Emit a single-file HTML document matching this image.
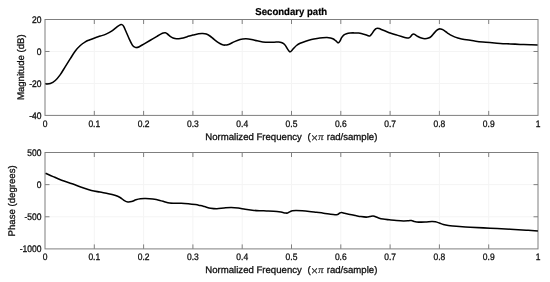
<!DOCTYPE html><html><head><meta charset="utf-8"><title>Secondary path</title>
<style>html,body{margin:0;padding:0;background:#fff}svg{display:block}text{font-family:'Liberation Sans', Arial, Helvetica, sans-serif;fill:#111;stroke:#111;stroke-width:0.3px;text-rendering:geometricPrecision}</style></head><body>
<svg width="550" height="282" viewBox="0 0 550 282">
<rect width="550" height="282" fill="#fff"/>
<line x1="94.30" y1="19.50" x2="94.30" y2="115.40" stroke="#f4f4f4" stroke-width="1"/>
<line x1="143.60" y1="19.50" x2="143.60" y2="115.40" stroke="#f4f4f4" stroke-width="1"/>
<line x1="192.90" y1="19.50" x2="192.90" y2="115.40" stroke="#f4f4f4" stroke-width="1"/>
<line x1="242.20" y1="19.50" x2="242.20" y2="115.40" stroke="#f4f4f4" stroke-width="1"/>
<line x1="291.50" y1="19.50" x2="291.50" y2="115.40" stroke="#f4f4f4" stroke-width="1"/>
<line x1="340.80" y1="19.50" x2="340.80" y2="115.40" stroke="#f4f4f4" stroke-width="1"/>
<line x1="390.10" y1="19.50" x2="390.10" y2="115.40" stroke="#f4f4f4" stroke-width="1"/>
<line x1="439.40" y1="19.50" x2="439.40" y2="115.40" stroke="#f4f4f4" stroke-width="1"/>
<line x1="488.70" y1="19.50" x2="488.70" y2="115.40" stroke="#f4f4f4" stroke-width="1"/>
<line x1="45.00" y1="51.47" x2="538.00" y2="51.47" stroke="#f4f4f4" stroke-width="1"/>
<line x1="45.00" y1="83.43" x2="538.00" y2="83.43" stroke="#f4f4f4" stroke-width="1"/>
<rect x="45.00" y="19.50" width="493.00" height="95.90" fill="none" stroke="#7f7f7f" stroke-width="1"/>
<line x1="94.30" y1="115.40" x2="94.30" y2="110.90" stroke="#808080" stroke-width="1"/>
<line x1="94.30" y1="19.50" x2="94.30" y2="24.00" stroke="#808080" stroke-width="1"/>
<line x1="143.60" y1="115.40" x2="143.60" y2="110.90" stroke="#808080" stroke-width="1"/>
<line x1="143.60" y1="19.50" x2="143.60" y2="24.00" stroke="#808080" stroke-width="1"/>
<line x1="192.90" y1="115.40" x2="192.90" y2="110.90" stroke="#808080" stroke-width="1"/>
<line x1="192.90" y1="19.50" x2="192.90" y2="24.00" stroke="#808080" stroke-width="1"/>
<line x1="242.20" y1="115.40" x2="242.20" y2="110.90" stroke="#808080" stroke-width="1"/>
<line x1="242.20" y1="19.50" x2="242.20" y2="24.00" stroke="#808080" stroke-width="1"/>
<line x1="291.50" y1="115.40" x2="291.50" y2="110.90" stroke="#808080" stroke-width="1"/>
<line x1="291.50" y1="19.50" x2="291.50" y2="24.00" stroke="#808080" stroke-width="1"/>
<line x1="340.80" y1="115.40" x2="340.80" y2="110.90" stroke="#808080" stroke-width="1"/>
<line x1="340.80" y1="19.50" x2="340.80" y2="24.00" stroke="#808080" stroke-width="1"/>
<line x1="390.10" y1="115.40" x2="390.10" y2="110.90" stroke="#808080" stroke-width="1"/>
<line x1="390.10" y1="19.50" x2="390.10" y2="24.00" stroke="#808080" stroke-width="1"/>
<line x1="439.40" y1="115.40" x2="439.40" y2="110.90" stroke="#808080" stroke-width="1"/>
<line x1="439.40" y1="19.50" x2="439.40" y2="24.00" stroke="#808080" stroke-width="1"/>
<line x1="488.70" y1="115.40" x2="488.70" y2="110.90" stroke="#808080" stroke-width="1"/>
<line x1="488.70" y1="19.50" x2="488.70" y2="24.00" stroke="#808080" stroke-width="1"/>
<line x1="45.00" y1="51.47" x2="49.50" y2="51.47" stroke="#808080" stroke-width="1"/>
<line x1="538.00" y1="51.47" x2="533.50" y2="51.47" stroke="#808080" stroke-width="1"/>
<line x1="45.00" y1="83.43" x2="49.50" y2="83.43" stroke="#808080" stroke-width="1"/>
<line x1="538.00" y1="83.43" x2="533.50" y2="83.43" stroke="#808080" stroke-width="1"/>
<text transform="translate(45.00 126.95) scale(0.93 1.03)" font-size="9.15" text-anchor="middle">0</text>
<text transform="translate(94.30 126.95) scale(0.93 1.03)" font-size="9.15" text-anchor="middle">0.1</text>
<text transform="translate(143.60 126.95) scale(0.93 1.03)" font-size="9.15" text-anchor="middle">0.2</text>
<text transform="translate(192.90 126.95) scale(0.93 1.03)" font-size="9.15" text-anchor="middle">0.3</text>
<text transform="translate(242.20 126.95) scale(0.93 1.03)" font-size="9.15" text-anchor="middle">0.4</text>
<text transform="translate(291.50 126.95) scale(0.93 1.03)" font-size="9.15" text-anchor="middle">0.5</text>
<text transform="translate(340.80 126.95) scale(0.93 1.03)" font-size="9.15" text-anchor="middle">0.6</text>
<text transform="translate(390.10 126.95) scale(0.93 1.03)" font-size="9.15" text-anchor="middle">0.7</text>
<text transform="translate(439.40 126.95) scale(0.93 1.03)" font-size="9.15" text-anchor="middle">0.8</text>
<text transform="translate(488.70 126.95) scale(0.93 1.03)" font-size="9.15" text-anchor="middle">0.9</text>
<text transform="translate(538.00 126.95) scale(0.93 1.03)" font-size="9.15" text-anchor="middle">1</text>
<text transform="translate(41.50 23.00) scale(0.93 1.05)" font-size="9.15" text-anchor="end">20</text>
<text transform="translate(41.50 54.97) scale(0.93 1.05)" font-size="9.15" text-anchor="end">0</text>
<text transform="translate(41.50 86.93) scale(0.93 1.05)" font-size="9.15" text-anchor="end">-20</text>
<text transform="translate(41.50 118.90) scale(0.93 1.05)" font-size="9.15" text-anchor="end">-40</text>
<text transform="translate(205.30 139.70) scale(1 1)" font-size="9.6" text-anchor="start" >Normalized Frequency</text>
<text transform="translate(307.60 139.70) scale(1 1)" font-size="9.6" text-anchor="start" >(</text>
<text transform="translate(314.45 141.70) scale(1 1)" font-size="12.5" text-anchor="middle" style="font-family:'Liberation Serif',serif;fill:#222;stroke:#222;stroke-width:0.25px">×</text>
<text transform="translate(320.85 139.80) scale(1 1)" font-size="10.6" text-anchor="middle" font-style="italic" style="font-family:'Liberation Serif',serif;fill:#222;stroke:#222;stroke-width:0.2px">π</text>
<text transform="translate(326.70 139.70) scale(1 1)" font-size="9.6" text-anchor="start" >rad/sample)</text>
<text transform="translate(24.20 67.20) rotate(-90)" font-size="9.65" text-anchor="middle">Magnitude (dB)</text>
<path transform="translate(0.3 0)" d="M45.20 83.90C46.00 83.85 48.37 84.17 50.00 83.60C51.63 83.03 53.33 82.00 55.00 80.50C56.67 79.00 58.33 76.92 60.00 74.60C61.67 72.28 63.33 69.25 65.00 66.60C66.67 63.95 68.33 61.30 70.00 58.70C71.67 56.10 73.33 53.20 75.00 51.00C76.67 48.80 78.33 47.02 80.00 45.50C81.67 43.98 83.50 42.82 85.00 41.90C86.50 40.98 87.33 40.70 89.00 40.00C90.67 39.30 93.17 38.35 95.00 37.70C96.83 37.05 98.22 36.70 100.00 36.10C101.78 35.50 103.82 34.93 105.70 34.10C107.58 33.27 109.42 32.35 111.30 31.10C113.18 29.85 115.58 27.63 117.00 26.60C118.42 25.57 119.05 25.23 119.80 24.90C120.55 24.57 120.90 24.37 121.50 24.60C122.10 24.83 122.62 24.95 123.40 26.30C124.18 27.65 125.27 30.57 126.20 32.70C127.13 34.83 128.05 37.08 129.00 39.10C129.95 41.12 131.07 43.50 131.90 44.80C132.73 46.10 133.30 46.43 134.00 46.90C134.70 47.37 135.27 47.63 136.10 47.60C136.93 47.57 137.70 47.33 139.00 46.70C140.30 46.07 142.13 44.83 143.90 43.80C145.67 42.77 147.47 41.75 149.60 40.50C151.73 39.25 154.82 37.40 156.70 36.30C158.58 35.20 159.85 34.45 160.90 33.90C161.95 33.35 162.32 33.18 163.00 33.00C163.68 32.82 164.30 32.63 165.00 32.80C165.70 32.97 166.38 33.40 167.20 34.00C168.02 34.60 168.97 35.72 169.90 36.40C170.83 37.08 171.73 37.70 172.80 38.10C173.87 38.50 174.88 38.78 176.30 38.80C177.72 38.82 179.53 38.55 181.30 38.20C183.07 37.85 185.02 37.22 186.90 36.70C188.78 36.18 190.70 35.58 192.60 35.10C194.50 34.62 196.65 34.05 198.30 33.80C199.95 33.55 201.22 33.55 202.50 33.60C203.78 33.65 204.82 33.70 206.00 34.10C207.18 34.50 208.30 35.12 209.60 36.00C210.90 36.88 212.38 38.30 213.80 39.40C215.22 40.50 216.80 41.75 218.10 42.60C219.40 43.45 220.50 44.08 221.60 44.50C222.70 44.92 223.58 45.12 224.70 45.10C225.82 45.08 226.72 44.98 228.30 44.40C229.88 43.82 232.28 42.42 234.20 41.60C236.12 40.78 237.92 39.97 239.80 39.50C241.68 39.03 243.60 38.82 245.50 38.80C247.40 38.78 249.32 39.07 251.20 39.40C253.08 39.73 254.92 40.38 256.80 40.80C258.68 41.22 260.60 41.65 262.50 41.90C264.40 42.15 266.32 42.25 268.20 42.30C270.08 42.35 272.08 42.25 273.80 42.20C275.52 42.15 277.30 41.97 278.50 42.00C279.70 42.03 280.20 42.13 281.00 42.40C281.80 42.67 282.60 43.07 283.30 43.60C284.00 44.13 284.58 44.75 285.20 45.60C285.82 46.45 286.42 47.78 287.00 48.70C287.58 49.62 288.23 50.58 288.70 51.10C289.17 51.62 289.37 51.87 289.80 51.80C290.23 51.73 290.70 51.28 291.30 50.70C291.90 50.12 292.58 49.17 293.40 48.30C294.22 47.43 295.13 46.33 296.20 45.50C297.27 44.67 298.27 44.02 299.80 43.30C301.33 42.58 303.52 41.83 305.40 41.20C307.28 40.57 309.20 39.97 311.10 39.50C313.00 39.03 314.92 38.70 316.80 38.40C318.68 38.10 320.75 37.85 322.40 37.70C324.05 37.55 325.40 37.45 326.70 37.50C328.00 37.55 329.13 37.75 330.20 38.00C331.27 38.25 332.25 38.55 333.10 39.00C333.95 39.45 334.63 40.15 335.30 40.70C335.97 41.25 336.62 41.95 337.10 42.30C337.58 42.65 337.78 42.98 338.20 42.80C338.62 42.62 339.08 42.05 339.60 41.20C340.12 40.35 340.67 38.72 341.30 37.70C341.93 36.68 342.58 35.77 343.40 35.10C344.22 34.43 345.13 34.05 346.20 33.70C347.27 33.35 348.50 33.13 349.80 33.00C351.10 32.87 352.58 32.88 354.00 32.90C355.42 32.92 356.88 32.92 358.30 33.10C359.72 33.28 361.20 33.68 362.50 34.00C363.80 34.32 365.15 34.70 366.10 35.00C367.05 35.30 367.60 35.65 368.20 35.80C368.80 35.95 369.20 36.15 369.70 35.90C370.20 35.65 370.52 35.18 371.20 34.30C371.88 33.42 373.05 31.55 373.80 30.60C374.55 29.65 375.15 29.00 375.70 28.60C376.25 28.20 376.58 28.20 377.10 28.20C377.62 28.20 377.93 28.30 378.80 28.60C379.67 28.90 381.00 29.48 382.30 30.00C383.60 30.52 385.33 31.20 386.60 31.70C387.87 32.20 388.40 32.48 389.90 33.00C391.40 33.52 393.70 34.22 395.60 34.80C397.50 35.38 399.65 36.02 401.30 36.50C402.95 36.98 404.33 37.45 405.50 37.70C406.67 37.95 407.55 38.12 408.30 38.00C409.05 37.88 409.40 37.57 410.00 37.00C410.60 36.43 411.35 35.10 411.90 34.60C412.45 34.10 412.83 34.00 413.30 34.00C413.77 34.00 413.98 34.18 414.70 34.60C415.42 35.02 416.53 35.92 417.60 36.50C418.67 37.08 419.93 37.73 421.10 38.10C422.27 38.47 423.42 38.70 424.60 38.70C425.78 38.70 427.13 38.50 428.20 38.10C429.27 37.70 430.07 37.13 431.00 36.30C431.93 35.47 432.85 34.12 433.80 33.10C434.75 32.08 435.87 30.88 436.70 30.20C437.53 29.52 438.22 29.22 438.80 29.00C439.38 28.78 439.60 28.80 440.20 28.90C440.80 29.00 441.45 29.08 442.40 29.60C443.35 30.12 445.05 31.38 445.90 32.00C446.75 32.62 446.82 32.82 447.50 33.30C448.18 33.78 448.88 34.30 450.00 34.90C451.12 35.50 452.95 36.38 454.20 36.90C455.45 37.42 456.32 37.67 457.50 38.00C458.68 38.33 459.48 38.55 461.30 38.90C463.12 39.25 466.03 39.72 468.40 40.10C470.77 40.48 473.13 40.88 475.50 41.20C477.87 41.52 480.25 41.77 482.60 42.00C484.95 42.23 486.70 42.37 489.60 42.60C492.50 42.83 496.60 43.18 500.00 43.40C503.40 43.62 506.67 43.73 510.00 43.90C513.33 44.07 516.67 44.25 520.00 44.40C523.33 44.55 527.12 44.68 530.00 44.80C532.88 44.92 536.08 45.05 537.30 45.10" fill="none" stroke="#000" stroke-width="1.55" stroke-linejoin="round" stroke-linecap="butt"/>
<line x1="94.30" y1="152.50" x2="94.30" y2="248.90" stroke="#f4f4f4" stroke-width="1"/>
<line x1="143.60" y1="152.50" x2="143.60" y2="248.90" stroke="#f4f4f4" stroke-width="1"/>
<line x1="192.90" y1="152.50" x2="192.90" y2="248.90" stroke="#f4f4f4" stroke-width="1"/>
<line x1="242.20" y1="152.50" x2="242.20" y2="248.90" stroke="#f4f4f4" stroke-width="1"/>
<line x1="291.50" y1="152.50" x2="291.50" y2="248.90" stroke="#f4f4f4" stroke-width="1"/>
<line x1="340.80" y1="152.50" x2="340.80" y2="248.90" stroke="#f4f4f4" stroke-width="1"/>
<line x1="390.10" y1="152.50" x2="390.10" y2="248.90" stroke="#f4f4f4" stroke-width="1"/>
<line x1="439.40" y1="152.50" x2="439.40" y2="248.90" stroke="#f4f4f4" stroke-width="1"/>
<line x1="488.70" y1="152.50" x2="488.70" y2="248.90" stroke="#f4f4f4" stroke-width="1"/>
<line x1="45.00" y1="184.63" x2="538.00" y2="184.63" stroke="#f4f4f4" stroke-width="1"/>
<line x1="45.00" y1="216.77" x2="538.00" y2="216.77" stroke="#f4f4f4" stroke-width="1"/>
<rect x="45.00" y="152.50" width="493.00" height="96.40" fill="none" stroke="#7f7f7f" stroke-width="1"/>
<line x1="94.30" y1="248.90" x2="94.30" y2="244.40" stroke="#808080" stroke-width="1"/>
<line x1="94.30" y1="152.50" x2="94.30" y2="157.00" stroke="#808080" stroke-width="1"/>
<line x1="143.60" y1="248.90" x2="143.60" y2="244.40" stroke="#808080" stroke-width="1"/>
<line x1="143.60" y1="152.50" x2="143.60" y2="157.00" stroke="#808080" stroke-width="1"/>
<line x1="192.90" y1="248.90" x2="192.90" y2="244.40" stroke="#808080" stroke-width="1"/>
<line x1="192.90" y1="152.50" x2="192.90" y2="157.00" stroke="#808080" stroke-width="1"/>
<line x1="242.20" y1="248.90" x2="242.20" y2="244.40" stroke="#808080" stroke-width="1"/>
<line x1="242.20" y1="152.50" x2="242.20" y2="157.00" stroke="#808080" stroke-width="1"/>
<line x1="291.50" y1="248.90" x2="291.50" y2="244.40" stroke="#808080" stroke-width="1"/>
<line x1="291.50" y1="152.50" x2="291.50" y2="157.00" stroke="#808080" stroke-width="1"/>
<line x1="340.80" y1="248.90" x2="340.80" y2="244.40" stroke="#808080" stroke-width="1"/>
<line x1="340.80" y1="152.50" x2="340.80" y2="157.00" stroke="#808080" stroke-width="1"/>
<line x1="390.10" y1="248.90" x2="390.10" y2="244.40" stroke="#808080" stroke-width="1"/>
<line x1="390.10" y1="152.50" x2="390.10" y2="157.00" stroke="#808080" stroke-width="1"/>
<line x1="439.40" y1="248.90" x2="439.40" y2="244.40" stroke="#808080" stroke-width="1"/>
<line x1="439.40" y1="152.50" x2="439.40" y2="157.00" stroke="#808080" stroke-width="1"/>
<line x1="488.70" y1="248.90" x2="488.70" y2="244.40" stroke="#808080" stroke-width="1"/>
<line x1="488.70" y1="152.50" x2="488.70" y2="157.00" stroke="#808080" stroke-width="1"/>
<line x1="45.00" y1="184.63" x2="49.50" y2="184.63" stroke="#808080" stroke-width="1"/>
<line x1="538.00" y1="184.63" x2="533.50" y2="184.63" stroke="#808080" stroke-width="1"/>
<line x1="45.00" y1="216.77" x2="49.50" y2="216.77" stroke="#808080" stroke-width="1"/>
<line x1="538.00" y1="216.77" x2="533.50" y2="216.77" stroke="#808080" stroke-width="1"/>
<text transform="translate(45.00 260.45) scale(0.93 1.03)" font-size="9.15" text-anchor="middle">0</text>
<text transform="translate(94.30 260.45) scale(0.93 1.03)" font-size="9.15" text-anchor="middle">0.1</text>
<text transform="translate(143.60 260.45) scale(0.93 1.03)" font-size="9.15" text-anchor="middle">0.2</text>
<text transform="translate(192.90 260.45) scale(0.93 1.03)" font-size="9.15" text-anchor="middle">0.3</text>
<text transform="translate(242.20 260.45) scale(0.93 1.03)" font-size="9.15" text-anchor="middle">0.4</text>
<text transform="translate(291.50 260.45) scale(0.93 1.03)" font-size="9.15" text-anchor="middle">0.5</text>
<text transform="translate(340.80 260.45) scale(0.93 1.03)" font-size="9.15" text-anchor="middle">0.6</text>
<text transform="translate(390.10 260.45) scale(0.93 1.03)" font-size="9.15" text-anchor="middle">0.7</text>
<text transform="translate(439.40 260.45) scale(0.93 1.03)" font-size="9.15" text-anchor="middle">0.8</text>
<text transform="translate(488.70 260.45) scale(0.93 1.03)" font-size="9.15" text-anchor="middle">0.9</text>
<text transform="translate(538.00 260.45) scale(0.93 1.03)" font-size="9.15" text-anchor="middle">1</text>
<text transform="translate(41.50 156.00) scale(0.93 1.05)" font-size="9.15" text-anchor="end">500</text>
<text transform="translate(41.50 188.13) scale(0.93 1.05)" font-size="9.15" text-anchor="end">0</text>
<text transform="translate(41.50 220.27) scale(0.93 1.05)" font-size="9.15" text-anchor="end">-500</text>
<text transform="translate(41.50 252.40) scale(0.93 1.05)" font-size="9.15" text-anchor="end">-1000</text>
<text transform="translate(205.30 273.20) scale(1 1)" font-size="9.6" text-anchor="start" >Normalized Frequency</text>
<text transform="translate(307.60 273.20) scale(1 1)" font-size="9.6" text-anchor="start" >(</text>
<text transform="translate(314.45 275.20) scale(1 1)" font-size="12.5" text-anchor="middle" style="font-family:'Liberation Serif',serif;fill:#222;stroke:#222;stroke-width:0.25px">×</text>
<text transform="translate(320.85 273.30) scale(1 1)" font-size="10.6" text-anchor="middle" font-style="italic" style="font-family:'Liberation Serif',serif;fill:#222;stroke:#222;stroke-width:0.2px">π</text>
<text transform="translate(326.70 273.20) scale(1 1)" font-size="9.6" text-anchor="start" >rad/sample)</text>
<text transform="translate(14.80 200.85) rotate(-90)" font-size="9.65" text-anchor="middle">Phase (degrees)</text>
<path transform="translate(0.3 0)" d="M45.30 173.20C46.55 173.77 50.13 175.43 52.80 176.60C55.47 177.77 58.12 179.00 61.30 180.20C64.48 181.40 68.35 182.55 71.90 183.80C75.45 185.05 79.40 186.60 82.60 187.70C85.80 188.80 88.27 189.67 91.10 190.40C93.93 191.13 96.77 191.55 99.60 192.10C102.43 192.65 105.62 193.17 108.10 193.70C110.58 194.23 112.55 194.67 114.50 195.30C116.45 195.93 118.20 196.62 119.80 197.50C121.40 198.38 122.80 199.85 124.10 200.60C125.40 201.35 126.40 201.83 127.60 202.00C128.80 202.17 129.95 201.97 131.30 201.60C132.65 201.23 134.23 200.27 135.70 199.80C137.17 199.33 138.48 199.00 140.10 198.80C141.72 198.60 143.33 198.55 145.40 198.60C147.47 198.65 150.13 198.80 152.50 199.10C154.87 199.40 157.53 199.92 159.60 200.40C161.67 200.88 163.27 201.57 164.90 202.00C166.53 202.43 167.92 202.80 169.40 203.00C170.88 203.20 171.88 203.17 173.80 203.20C175.72 203.23 178.53 203.12 180.90 203.20C183.27 203.28 185.65 203.47 188.00 203.70C190.35 203.93 193.00 204.28 195.00 204.60C197.00 204.92 198.47 205.27 200.00 205.60C201.53 205.93 202.47 206.17 204.20 206.60C205.93 207.03 208.33 207.85 210.40 208.20C212.47 208.55 214.38 208.73 216.60 208.70C218.82 208.67 221.33 208.20 223.70 208.00C226.07 207.80 228.45 207.50 230.80 207.50C233.15 207.50 235.45 207.70 237.80 208.00C240.15 208.30 242.53 208.93 244.90 209.30C247.27 209.67 249.63 209.97 252.00 210.20C254.37 210.43 256.73 210.58 259.10 210.70C261.47 210.82 263.83 210.82 266.20 210.90C268.57 210.98 270.90 211.00 273.30 211.20C275.70 211.40 278.63 211.80 280.60 212.10C282.57 212.40 283.97 212.85 285.10 213.00C286.23 213.15 286.62 213.23 287.40 213.00C288.18 212.77 289.02 211.98 289.80 211.60C290.58 211.22 291.12 210.90 292.10 210.70C293.08 210.50 294.07 210.40 295.70 210.40C297.33 210.40 299.68 210.53 301.90 210.70C304.12 210.87 306.63 211.13 309.00 211.40C311.37 211.67 313.73 212.00 316.10 212.30C318.47 212.60 320.85 212.87 323.20 213.20C325.55 213.53 328.28 214.03 330.20 214.30C332.12 214.57 333.52 214.77 334.70 214.80C335.88 214.83 336.50 214.80 337.30 214.50C338.10 214.20 338.85 213.33 339.50 213.00C340.15 212.67 340.38 212.47 341.20 212.50C342.02 212.53 342.98 212.87 344.40 213.20C345.82 213.53 347.88 214.10 349.70 214.50C351.52 214.90 353.48 215.25 355.30 215.60C357.12 215.95 358.83 216.35 360.60 216.60C362.37 216.85 364.42 217.10 365.90 217.10C367.38 217.10 368.37 216.80 369.50 216.60C370.63 216.40 371.82 215.90 372.70 215.90C373.58 215.90 373.87 216.25 374.80 216.60C375.73 216.95 376.97 217.58 378.30 218.00C379.63 218.42 381.02 218.80 382.80 219.10C384.58 219.40 386.78 219.57 389.00 219.80C391.22 220.03 393.73 220.32 396.10 220.50C398.47 220.68 401.13 220.87 403.20 220.90C405.27 220.93 407.18 220.77 408.50 220.70C409.82 220.63 410.22 220.38 411.10 220.50C411.98 220.62 412.92 221.17 413.80 221.40C414.68 221.63 415.22 221.78 416.40 221.90C417.58 222.02 419.27 222.10 420.90 222.10C422.53 222.10 424.43 221.98 426.20 221.90C427.97 221.82 430.02 221.62 431.50 221.60C432.98 221.58 433.85 221.57 435.10 221.80C436.35 222.03 437.68 222.53 439.00 223.00C440.32 223.47 441.50 224.17 443.00 224.60C444.50 225.03 445.83 225.33 448.00 225.60C450.17 225.87 452.33 225.93 456.00 226.20C459.67 226.47 464.33 226.87 470.00 227.20C475.67 227.53 483.33 227.87 490.00 228.20C496.67 228.53 504.00 228.87 510.00 229.20C516.00 229.53 521.40 229.90 526.00 230.20C530.60 230.50 535.67 230.87 537.60 231.00" fill="none" stroke="#000" stroke-width="1.55" stroke-linejoin="round" stroke-linecap="butt"/>
<text transform="translate(291.30 15.40) scale(0.995 1.04)" font-size="9.65" font-weight="bold" text-anchor="middle" style="fill:#000;stroke:#000;stroke-width:0.2px">Secondary path</text>
</svg></body></html>
